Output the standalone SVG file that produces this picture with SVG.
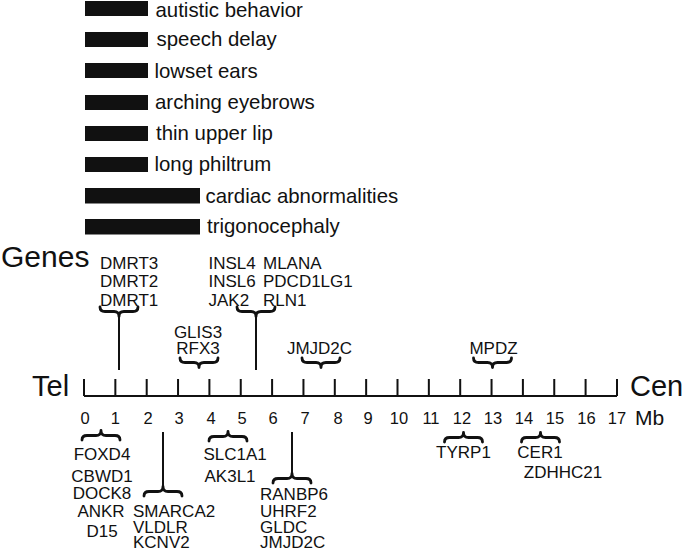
<svg xmlns="http://www.w3.org/2000/svg" width="685" height="550" viewBox="0 0 685 550">
<style>
text{font-family:"Liberation Sans",Arial,sans-serif;fill:#111}
.ph{font-size:20.4px}
.g{font-size:17px}
.n{font-size:16.5px;text-anchor:middle}
.big{font-size:30px}
.m{text-anchor:middle}
.bar{fill:#111}
.ln{stroke:#111;stroke-width:2;fill:none}
.br{stroke:#111;stroke-width:2.8;fill:none;stroke-linecap:round;stroke-linejoin:round}
</style>
<defs>
<path id="brace" d="M-19,0 Q-19,4.5 -14,4.5 L-5,4.5 Q0,4.5 0,9.5 Q0,4.5 5,4.5 L14,4.5 Q19,4.5 19,0"/>
</defs>
<g id="phenotypes">
<g id="p1"><rect class="bar" x="85" y="1" width="63" height="15"/><text class="ph" x="155.5" y="16.5">autistic behavior</text></g>
<g id="p2"><rect class="bar" x="85" y="32" width="63" height="15"/><text class="ph" x="156.5" y="46">speech delay</text></g>
<g id="p3"><rect class="bar" x="85" y="63" width="63" height="15"/><text class="ph" x="154.5" y="78">lowset ears</text></g>
<g id="p4"><rect class="bar" x="85" y="95" width="63" height="15"/><text class="ph" x="155" y="109">arching eyebrows</text></g>
<g id="p5"><rect class="bar" x="85" y="126" width="63" height="15"/><text class="ph" x="156" y="140">thin upper lip</text></g>
<g id="p6"><rect class="bar" x="85" y="157" width="63" height="15"/><text class="ph" x="154.5" y="171">long philtrum</text></g>
<g id="p7"><rect class="bar" x="85" y="188" width="115" height="15.5"/><text class="ph" x="205.5" y="203">cardiac abnormalities</text></g>
<g id="p8"><rect class="bar" x="85" y="219" width="115" height="15.5"/><text class="ph" x="207" y="233">trigonocephaly</text></g>
</g>
<g id="axis">
<text class="big" x="1" y="267">Genes</text>
<text class="big" x="32" y="396" style="font-size:29px">Tel</text>
<text class="big" x="630" y="396" style="font-size:29px">Cen</text>
<text x="635" y="425" style="font-size:21px">Mb</text>
<line class="ln" x1="84" y1="396" x2="617" y2="396"/>
<path class="ln" d="M84,379V396M115.35,379V396M146.7,379V396M178.05,379V396M209.4,379V396M240.75,379V396M272.1,379V396M303.45,379V396M334.8,379V396M366.15,379V396M397.5,379V396M428.85,379V396M460.2,379V396M491.55,379V396M522.9,379V396M554.25,379V396M585.6,379V396M617,379V396"/>
<g>
<text class="n" x="85" y="424">0</text><text class="n" x="115.4" y="424">1</text><text class="n" x="148" y="424">2</text><text class="n" x="179" y="424">3</text><text class="n" x="211" y="424">4</text><text class="n" x="242" y="424">5</text><text class="n" x="273" y="424">6</text><text class="n" x="305" y="424">7</text><text class="n" x="338" y="424">8</text><text class="n" x="368" y="424">9</text><text class="n" x="399" y="424">10</text><text class="n" x="431" y="424">11</text><text class="n" x="462" y="424">12</text><text class="n" x="493" y="424">13</text><text class="n" x="524" y="424">14</text><text class="n" x="555" y="424">15</text><text class="n" x="586.5" y="424">16</text><text class="n" x="617" y="424">17</text>
</g>
</g>
<g id="connectors">
<use href="#brace" class="br" transform="translate(119,307)"/>
<line class="ln" x1="119" y1="316" x2="119" y2="370"/>
<use href="#brace" class="br" transform="translate(256,307)"/>
<line class="ln" x1="256" y1="316" x2="256" y2="370"/>
<use href="#brace" class="br" transform="translate(199,358)"/>
<use href="#brace" class="br" transform="translate(321,358)"/>
<use href="#brace" class="br" transform="translate(492.5,358)"/>
<use href="#brace" class="br" transform="translate(101,440) scale(1,-1)"/>
<use href="#brace" class="br" transform="translate(163,496) scale(1,-1)"/>
<line class="ln" x1="163" y1="432" x2="163" y2="487"/>
<use href="#brace" class="br" transform="translate(228,441) scale(1,-1)"/>
<use href="#brace" class="br" transform="translate(292,483) scale(1,-1)"/>
<line class="ln" x1="292" y1="432" x2="292" y2="474"/>
<use href="#brace" class="br" transform="translate(463.5,442) scale(1,-1)"/>
<use href="#brace" class="br" transform="translate(540.5,442) scale(1,-1)"/>
</g>
<g id="genes-dmrt"><text class="g" x="100" y="268.5">DMRT3</text><text class="g" x="100" y="287">DMRT2</text><text class="g" x="100" y="305.5">DMRT1</text></g>
<g id="genes-insl"><text class="g" x="208.5" y="268.5">INSL4</text><text class="g" x="208.5" y="287">INSL6</text><text class="g" x="208.5" y="305.5">JAK2</text></g>
<g id="genes-mlana"><text class="g" x="263" y="268.5">MLANA</text><text class="g" x="263" y="287">PDCD1LG1</text><text class="g" x="263" y="305.5">RLN1</text></g>
<g id="genes-glis"><text class="g m" x="198" y="338">GLIS3</text><text class="g m" x="198" y="354">RFX3</text></g>
<g id="genes-jmjd2c-top"><text class="g m" x="319.5" y="354">JMJD2C</text></g>
<g id="genes-mpdz"><text class="g m" x="493.5" y="354">MPDZ</text></g>
<g id="genes-foxd4"><text class="g m" x="102" y="460">FOXD4</text><text class="g m" x="102" y="481.5">CBWD1</text><text class="g m" x="102" y="498.5">DOCK8</text><text class="g m" x="101" y="517">ANKR</text><text class="g m" x="102" y="537">D15</text></g>
<g id="genes-smarca2"><text class="g" x="133" y="517">SMARCA2</text><text class="g" x="133" y="533">VLDLR</text><text class="g" x="133" y="548">KCNV2</text></g>
<g id="genes-slc1a1"><text class="g" x="203.5" y="460">SLC1A1</text><text class="g" x="204.5" y="481.5">AK3L1</text></g>
<g id="genes-ranbp6"><text class="g" x="260" y="500">RANBP6</text><text class="g" x="260" y="517">UHRF2</text><text class="g" x="260" y="533">GLDC</text><text class="g" x="260" y="548">JMJD2C</text></g>
<g id="genes-tyrp1"><text class="g m" x="463.5" y="458">TYRP1</text></g>
<g id="genes-cer1"><text class="g m" x="540" y="458">CER1</text><text class="g m" x="563" y="478">ZDHHC21</text></g>
</svg>
